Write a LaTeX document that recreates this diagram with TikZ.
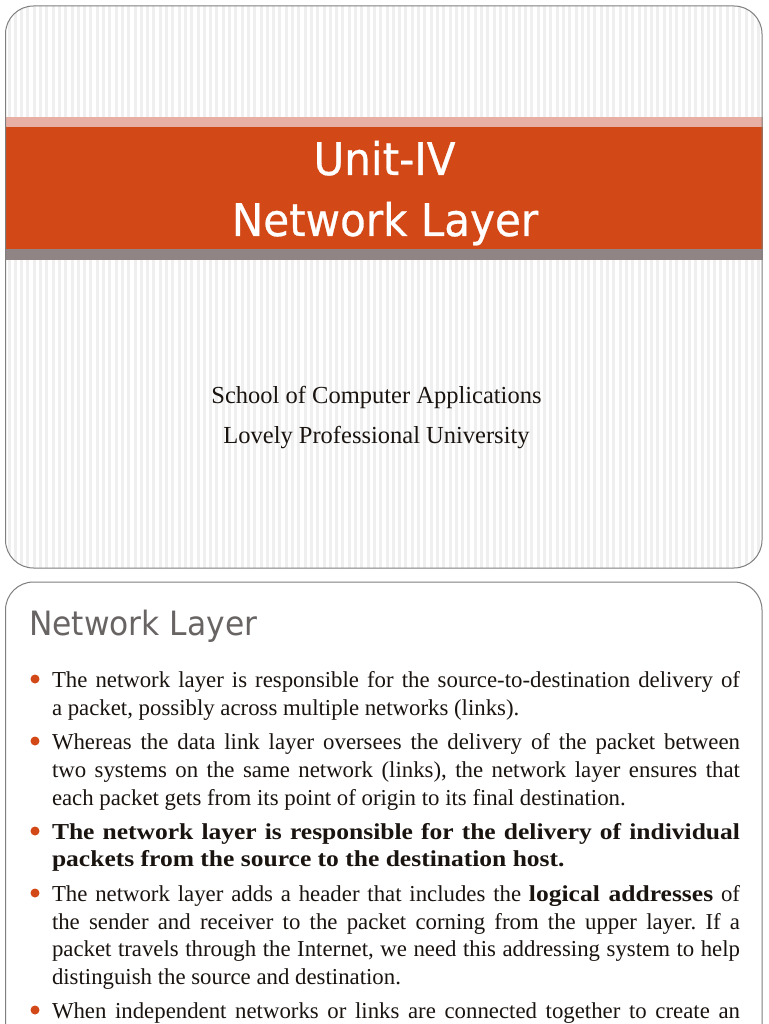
\documentclass[tikz,border=0pt]{standalone}
\usepackage{fontspec}
\setmainfont{Liberation Serif}[BoldFeatures={FakeStretch=1.12}]
\newfontfamily\titlefont{DejaVu Sans}[FakeStretch=0.935,FakeBold=0.6]
\newfontfamily\headfont{DejaVu Sans}[FakeStretch=0.935]
\definecolor{bandorange}{HTML}{D34817}
\definecolor{bandpink}{HTML}{E8B0A5}
\definecolor{bandgrey}{HTML}{918485}
\definecolor{cardline}{HTML}{7F7F7F}
\definecolor{stripe}{HTML}{EFEFEF}
\definecolor{headgrey}{HTML}{696464}
\definecolor{bodyblack}{HTML}{1A1410}
\tikzset{
  x=1pt,y=-1pt,
  bodyline/.style={anchor=base west,inner sep=0pt,outer sep=0pt,text=bodyblack,font=\frenchspacing\fontsize{22.8}{26}\selectfont},
  plainline/.style={bodyline},
  dot/.style={circle,fill=bandorange,draw=none,minimum size=9pt,inner sep=0pt},
  title/.style={anchor=base,inner sep=0pt,text=white,font=\titlefont\fontsize{45}{50}\selectfont},
  sub/.style={anchor=base,inner sep=0pt,text=bodyblack,font=\fontsize{24.5}{28}\selectfont},
  card/.style={draw=cardline,line width=1pt,rounded corners=28pt},
}
\newcommand{\jl}[1]{\makebox[688pt][s]{#1}}
\begin{document}
\begin{tikzpicture}
\useasboundingbox (0,0) rectangle (768,1024);
\fill[white] (0,0) rectangle (768,1024);
% top card stripes
\begin{scope}
\clip[rounded corners=28pt] (5.5,6) rectangle (762,568);
\foreach \i in {0,...,120} {
  \fill[stripe] ({7.5+6.3*\i},0) rectangle ({10.5+6.3*\i},570);
}
\end{scope}
\fill[bandpink] (5,117) rectangle (762.5,127);
\fill[bandorange] (5,127) rectangle (762.5,249);
\fill[bandgrey] (5,249) rectangle (762.5,260);
\draw[card] (5.5,6) rectangle (762,568);
\draw[card] (5.5,582) -- (5.5,1060) -- (762,1060) -- (762,582) -- cycle;
% title
\node[title] (t1) at (384.5,175) {Unit-IV};
\node[title] (t2) at (385,236) {Network Layer};
\node[sub] (s1) at (376.5,403) {School of Computer Applications};
\node[sub] (s2) at (376.5,443) {Lovely Professional University};
\node[anchor=base west,inner sep=0pt,text=headgrey,font=\headfont\fontsize{33.5}{38}\selectfont] (head) at (29,635) {Network Layer};
% bullets
\node[dot] (b1) at (35,679) {};
\node[dot] (b2) at (35,741) {};
\node[dot] (b3) at (35,831) {};
\node[dot] (b4) at (35,893) {};
\node[dot] (b5) at (35,1010) {};
% body
\node[bodyline] (l1) at (52,687) {\jl{The network layer is responsible for the source-to-destination delivery of}};
\node[plainline] (l2) at (52,715) {a packet, possibly across multiple networks (links).};
\node[bodyline] (l3) at (52,749) {\jl{Whereas the data link layer oversees the delivery of the packet between}};
\node[bodyline] (l4) at (52,777) {\jl{two systems on the same network (links), the network layer ensures that}};
\node[plainline] (l5) at (52,805) {each packet gets from its point of origin to its final destination.};
\node[bodyline] (l6) at (52,839) {\jl{\bfseries The network layer is responsible for the delivery of individual}};
\node[plainline] (l7) at (52,866) {\bfseries packets from the source to the destination host.};
\node[bodyline] (l8) at (52,901) {\jl{The network layer adds a header that includes the \textbf{logical addresses} of}};
\node[bodyline] (l9) at (52,929) {\jl{the sender and receiver to the packet corning from the upper layer. If a}};
\node[bodyline] (l10) at (52,956) {\jl{packet travels through the Internet, we need this addressing system to help}};
\node[plainline] (l11) at (52,984) {distinguish the source and destination.};
\node[bodyline] (l12) at (52,1018) {\jl{When independent networks or links are connected together to create an}};
\end{tikzpicture}
\end{document}
